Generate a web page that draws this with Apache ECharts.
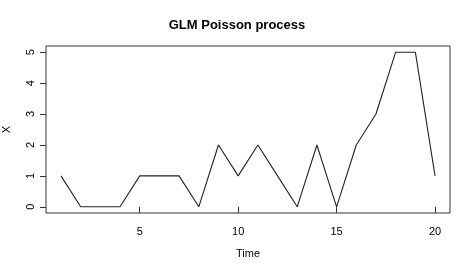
<!DOCTYPE html>
<html><head><meta charset="utf-8">
<script src="https://cdn.jsdelivr.net/npm/echarts@6/dist/echarts.min.js"></script>
<style>html,body{margin:0;padding:0;background:#fff}#c{width:474px;height:271px}</style>
</head><body><div id="c"></div>
<script>
const time = [1,2,3,4,5,6,7,8,9,10,11,12,13,14,15,16,17,18,19,20];
const values = [1,0,0,0,1,1,1,0,2,1,2,1,0,2,0,2,3,5,5,1];
const xTicks = [5,10,15,20];
const yTicks = [0,1,2,3,4,5];
const titleText = 'GLM Poisson process';
const xName = 'Time';
const yName = 'X';

const chart = echarts.init(document.getElementById('c'), null, {renderer:'canvas'});
const font = 'Liberation Sans, Arial, Helvetica, sans-serif';
chart.setOption({
  animation:false,
  backgroundColor:'#fff',
  title:{text:titleText,left:'center',top:14,textStyle:{fontFamily:font,fontSize:13,fontWeight:'bold',color:'#000'}},
  grid:{left:46,top:46,width:404,height:167,containLabel:false,outerBoundsMode:'none',show:true,borderColor:'#333',borderWidth:1,backgroundColor:'transparent'},
  xAxis:{type:'value',min:0.24,max:20.76,
    name:xName,nameLocation:'middle',nameGap:35,nameTextStyle:{fontFamily:font,fontSize:11,color:'#000'},
    axisLine:{show:false},
    axisTick:{show:true,customValues:xTicks,length:6,lineStyle:{color:'#333'}},
    axisLabel:{customValues:xTicks,margin:13,fontFamily:font,fontSize:11,color:'#000'},
    splitLine:{show:false}},
  yAxis:{type:'value',min:-0.2,max:5.2,
    name:yName,nameLocation:'middle',nameGap:34,nameRotate:90,nameTextStyle:{fontFamily:font,fontSize:11,color:'#000'},
    axisLine:{show:false},
    axisTick:{show:true,customValues:yTicks,length:6,lineStyle:{color:'#333'}},
    axisLabel:{customValues:yTicks,rotate:90,margin:10,fontFamily:font,fontSize:11,color:'#000'},
    splitLine:{show:false}},
  series:[{type:'line',data:time.map((t,i)=>[t,values[i]]),showSymbol:false,symbol:'none',
    lineStyle:{color:'#222',width:1.1}}]
});
</script></body></html>
